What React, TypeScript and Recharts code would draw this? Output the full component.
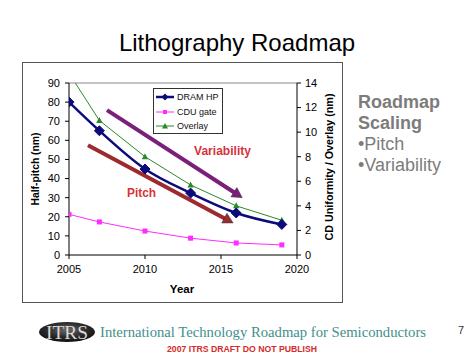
import React from 'react';
import { ComposedChart, Line, XAxis, YAxis, ReferenceLine, Legend } from 'recharts';

const years = [2005, 2007, 2010, 2013, 2016, 2019];
const dramHp = [80, 65, 45, 32.4, 22, 16];
const cduGate = [3.31, 2.69, 1.95, 1.37, 0.98, 0.82];
const overlay = [14.8, 10.95, 8.0, 5.7, 4.0, 2.83];

const seriesNames = ['DRAM HP', 'CDU gate', 'Overlay'];
const xTicks = [2005, 2010, 2015, 2020];
const leftTicks = [0, 10, 20, 30, 40, 50, 60, 70, 80, 90];
const rightTicks = [0, 2, 4, 6, 8, 10, 12, 14];

const variabilityArrow = [{ x: 2007.5, y: 75.8 }, { x: 2016.4, y: 30 }];
const pitchArrow = [{ x: 2006.25, y: 57.4 }, { x: 2015.8, y: 16.8 }];

const data = years.map((y, i) => ({ year: y, dram: dramHp[i], cdu: cduGate[i], overlay: overlay[i] }));

const NAVY = '#0b0b7a';
const MAGENTA = '#ff2bff';
const GREEN = '#2a8a2a';
const FONT = '"Liberation Sans", Arial, sans-serif';

const Diamond = (props: any) => {
  const { cx, cy } = props;
  if (cx == null || cy == null) return null;
  const r = 5;
  return <polygon points={`${cx},${cy - r} ${cx + r},${cy} ${cx},${cy + r} ${cx - r},${cy}`} fill={NAVY} stroke={NAVY} />;
};
const Square = (props: any) => {
  const { cx, cy } = props;
  if (cx == null || cy == null) return null;
  return <rect x={cx - 2.5} y={cy - 2.5} width={5} height={5} fill={MAGENTA} />;
};
const Tri = (props: any) => {
  const { cx, cy } = props;
  if (cx == null || cy == null) return null;
  return <polygon points={`${cx},${cy - 3.5} ${cx + 3.2},${cy + 2.5} ${cx - 3.2},${cy + 2.5}`} fill={GREEN} />;
};

const makeArrow = (color: string) => (props: any) => {
  const { x1, y1, x2, y2 } = props;
  if ([x1, y1, x2, y2].some((v) => v == null || isNaN(v))) return null;
  const dx = x2 - x1;
  const dy = y2 - y1;
  const len = Math.sqrt(dx * dx + dy * dy);
  const ux = dx / len;
  const uy = dy / len;
  const hl = 10;
  const hw = 5.5;
  const bx = x2 - ux * hl;
  const by = y2 - uy * hl;
  const px = -uy;
  const py = ux;
  return (
    <g>
      <line x1={x1} y1={y1} x2={bx + ux * 1} y2={by + uy * 1} stroke={color} strokeWidth={4} />
      <polygon
        points={`${x2},${y2} ${bx + px * hw},${by + py * hw} ${bx - px * hw},${by - py * hw}`}
        fill={color}
        stroke="#333"
        strokeWidth={0.5}
      />
    </g>
  );
};

const legendShapes: Record<string, { color: string; width: number; marker: string }> = {
  'DRAM HP': { color: NAVY, width: 2.5, marker: 'diamond' },
  'CDU gate': { color: MAGENTA, width: 1, marker: 'square' },
  Overlay: { color: GREEN, width: 1, marker: 'tri' },
};

const renderLegend = (props: any) => {
  const payload = [...(props.payload || [])].sort(
    (a: any, b: any) => seriesNames.indexOf(a.value) - seriesNames.indexOf(b.value)
  );
  return (
    <div
      style={{
        border: '1px solid #333',
        background: '#fff',
        width: 70,
        height: 46,
        boxSizing: 'border-box',
        padding: '1px 0 0 1px',
        fontFamily: FONT,
      }}
    >
      {payload.map((entry: any) => {
        const s = legendShapes[entry.value] || { color: '#000', width: 1, marker: '' };
        return (
          <div
            key={entry.value}
            style={{ display: 'flex', alignItems: 'center', height: 14.5, fontSize: 9, color: '#111', whiteSpace: 'nowrap' }}
          >
            <svg width={20} height={10} style={{ marginRight: 2, flexShrink: 0 }}>
              <line x1={1} y1={5} x2={19} y2={5} stroke={s.color} strokeWidth={s.width} />
              {s.marker === 'diamond' && <polygon points="10,1.5 13.5,5 10,8.5 6.5,5" fill={s.color} />}
              {s.marker === 'square' && <rect x={8} y={3} width={4} height={4} fill={s.color} />}
              {s.marker === 'tri' && <polygon points="10,2 13,7.5 7,7.5" fill={s.color} />}
            </svg>
            <span>{entry.value}</span>
          </div>
        );
      })}
    </div>
  );
};

export default function App() {
  return (
    <div
      style={{
        position: 'absolute',
        left: 0,
        top: 0,
        width: 474,
        height: 355,
        background: '#fff',
        overflow: 'hidden',
        fontFamily: FONT,
      }}
    >
      <div
        style={{
          position: 'absolute',
          left: 22,
          top: 62,
          width: 321,
          height: 241,
          border: '1.5px solid #555',
          boxSizing: 'border-box',
        }}
      />
      <div style={{ position: 'absolute', left: 22, top: 62 }}>
        <ComposedChart width={321} height={241} data={data} margin={{ top: 21, right: 0, left: 0, bottom: 0 }}>
          <XAxis
            dataKey="year"
            type="number"
            domain={[2005, 2020]}
            ticks={xTicks}
            stroke="#000"
            tick={{ fill: '#000', fontSize: 11, fontFamily: FONT }}
            tickSize={4}
            tickMargin={6}
            height={48}
            allowDataOverflow
          />
          <YAxis
            yAxisId="left"
            domain={[0, 90]}
            ticks={leftTicks}
            stroke="#000"
            tick={{ fill: '#000', fontSize: 11, fontFamily: FONT }}
            tickSize={4}
            tickMargin={5}
            width={47}
            allowDataOverflow
          />
          <YAxis
            yAxisId="right"
            orientation="right"
            domain={[0, 14]}
            ticks={rightTicks}
            stroke="#000"
            tick={{ fill: '#000', fontSize: 11, fontFamily: FONT }}
            tickSize={4}
            tickMargin={4}
            width={46}
            allowDataOverflow
          />
          <ReferenceLine yAxisId="left" y={90} stroke="#888" strokeWidth={1} />
          <ReferenceLine yAxisId="left" segment={pitchArrow} shape={makeArrow('#9c2a2e')} ifOverflow="visible" />
          <ReferenceLine yAxisId="left" segment={variabilityArrow} shape={makeArrow('#7a1f7a')} ifOverflow="visible" />
          <Line
            yAxisId="right"
            dataKey="cdu"
            name="CDU gate"
            type="linear"
            stroke={MAGENTA}
            strokeWidth={1}
            dot={<Square />}
            isAnimationActive={false}
          />
          <Line
            yAxisId="right"
            dataKey="overlay"
            name="Overlay"
            type="linear"
            stroke={GREEN}
            strokeWidth={1}
            dot={<Tri />}
            isAnimationActive={false}
          />
          <Line
            yAxisId="left"
            dataKey="dram"
            name="DRAM HP"
            type="monotone"
            stroke={NAVY}
            strokeWidth={2.5}
            dot={<Diamond />}
            isAnimationActive={false}
          />
          <Legend
            layout="vertical"
            align="center"
            verticalAlign="middle"
            content={renderLegend}
            wrapperStyle={{ left: 131, top: 26, width: 70, height: 46 }}
          />
        </ComposedChart>
      </div>
      <svg width={474} height={355} style={{ position: 'absolute', left: 0, top: 0, pointerEvents: 'none' }}>
        <defs>
          <radialGradient id="logoG" cx="50%" cy="40%" r="60%">
            <stop offset="0%" stopColor="#6a6a6a" />
            <stop offset="60%" stopColor="#2a2a2a" />
            <stop offset="100%" stopColor="#111" />
          </radialGradient>
        </defs>
        <text x={237} y={51} textAnchor="middle" fontSize={24} fontFamily={FONT} fill="#000">
          Lithography Roadmap
        </text>
        <text x={182} y={293} textAnchor="middle" fontSize={11.5} fontWeight="bold" fontFamily={FONT} fill="#000">
          Year
        </text>
        <text
          transform="translate(39,169) rotate(-90)"
          textAnchor="middle"
          fontSize={10.5}
          fontWeight="bold"
          fontFamily={FONT}
          fill="#000"
          textLength={73}
          lengthAdjust="spacingAndGlyphs"
        >
          Half-pitch (nm)
        </text>
        <text
          transform="translate(333,167) rotate(-90)"
          textAnchor="middle"
          fontSize={10.7}
          fontWeight="bold"
          fontFamily={FONT}
          fill="#000"
          textLength={147}
          lengthAdjust="spacingAndGlyphs"
        >
          CD Uniformity / Overlay (nm)
        </text>
        <text x={194} y={155} fontSize={12} fontWeight="bold" fontFamily={FONT} fill="#d8323a" textLength={57} lengthAdjust="spacingAndGlyphs">
          Variability
        </text>
        <text x={127} y={197} fontSize={12} fontWeight="bold" fontFamily={FONT} fill="#d8323a" textLength={29} lengthAdjust="spacingAndGlyphs">
          Pitch
        </text>
        <text x={358} y={108} fontSize={18} fontWeight="bold" fontFamily={FONT} fill="#7c7c7c">
          Roadmap
        </text>
        <text x={358} y={129} fontSize={18} fontWeight="bold" fontFamily={FONT} fill="#7c7c7c">
          Scaling
        </text>
        <text x={358} y={150} fontSize={18} fontFamily={FONT} fill="#7c7c7c">
          •Pitch
        </text>
        <text x={358} y={171} fontSize={18} fontFamily={FONT} fill="#7c7c7c">
          •Variability
        </text>
        <ellipse cx={67} cy={332} rx={28} ry={10} fill="url(#logoG)" />
        <text x={67} y={338.5} textAnchor="middle" fontSize={18} fontFamily='"Liberation Serif", serif' fill="#d8d8d8" textLength={42} lengthAdjust="spacingAndGlyphs">
          ITRS
        </text>
        <text
          x={100}
          y={337}
          fontSize={14.5}
          fontFamily='"Liberation Serif", serif'
          fill="#3f8f8c"
          textLength={326}
          lengthAdjust="spacingAndGlyphs"
        >
          International Technology Roadmap for Semiconductors
        </text>
        <text x={242} y={352} textAnchor="middle" fontSize={9} fontWeight="bold" fontFamily={FONT} fill="#d42a2a" textLength={150} lengthAdjust="spacingAndGlyphs">
          2007 ITRS DRAFT DO NOT PUBLISH
        </text>
        <text x={458} y={334} fontSize={11} fontFamily={FONT} fill="#333">
          7
        </text>
      </svg>
    </div>
  );
}
